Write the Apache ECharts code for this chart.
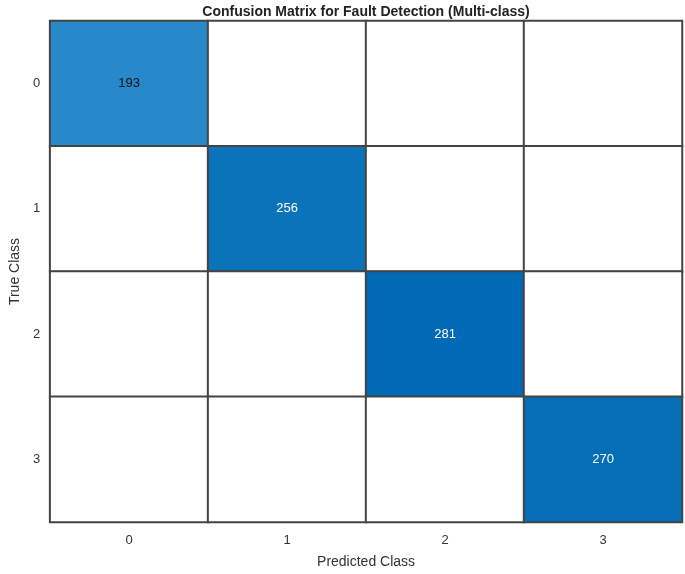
<!DOCTYPE html>
<html><head><meta charset="utf-8">
<script src="https://cdn.jsdelivr.net/npm/echarts@6/dist/echarts.min.js"></script>
<style>html,body{margin:0;padding:0;background:#fff}#c{width:685px;height:574px}</style>
</head><body><div id="c"></div>
<script>
const predicted = ['0','1','2','3'];
const trueClass = ['0','1','2','3'];
const matrix = [
  [193,0,0,0],
  [0,256,0,0],
  [0,0,281,0],
  [0,0,0,270]
];
const data = [];
matrix.forEach((row,i)=>row.forEach((v,j)=>data.push([j,i,v])));
const chart = echarts.init(document.getElementById('c'));
chart.setOption({
  title:{text:'Confusion Matrix for Fault Detection (Multi-class)',left:361,textAlign:'center',top:0,
    textStyle:{fontSize:14,fontWeight:'bold',color:'#222',fontFamily:'Arial, Liberation Sans'}},
  grid:{left:41,right:3,top:21,bottom:47},
  xAxis:{type:'category',data:predicted,name:'Predicted Class',nameLocation:'middle',nameGap:33,
    nameTextStyle:{fontSize:14,color:'#333'},axisLine:{lineStyle:{color:'#444',width:2}},axisTick:{show:false},
    axisLabel:{fontSize:13,color:'#333',margin:12},splitArea:{show:false}},
  yAxis:{type:'category',data:trueClass,inverse:true,name:'True Class',nameLocation:'middle',nameGap:22,
    nameTextStyle:{fontSize:14,color:'#333'},axisLine:{lineStyle:{color:'#444',width:2}},axisTick:{show:false},
    axisLabel:{fontSize:13,color:'#333',margin:10}},
  visualMap:{show:false,min:0,max:281,dimension:2,inRange:{color:['#ffffff','#ffffff','#2b8bcb','#006ab4']}},
  series:[{type:'heatmap',data:data,
    itemStyle:{borderColor:'#444',borderWidth:2},
    label:{show:true,fontSize:13,formatter:p=>p.value[2]?String(p.value[2]):'',
      color:'#fff'},
    emphasis:{disabled:true}}]
});
const opt = chart.getOption();
chart.setOption({series:[{data:data.map(d=>({value:d,label:{color:d[2]<220?'#111':'#fff'}}))}]});
</script></body></html>
